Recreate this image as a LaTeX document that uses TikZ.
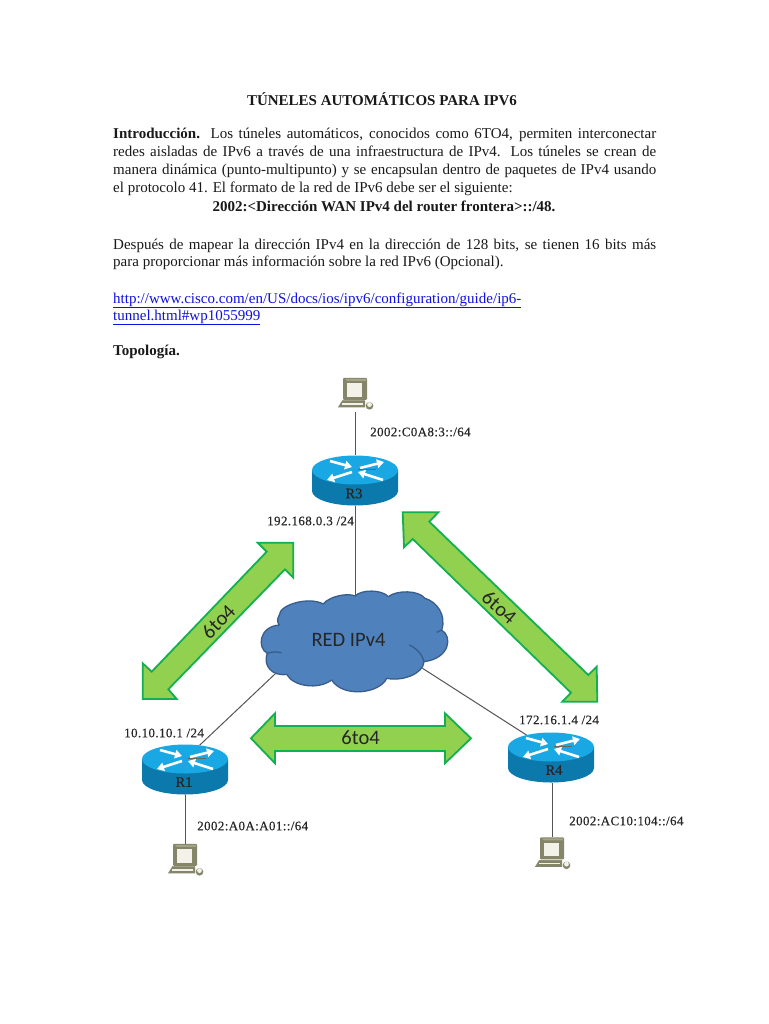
\documentclass[tikz,border=0pt]{standalone}
\usepackage{fontspec}
\usetikzlibrary{shapes.geometric,arrows.meta}
\setmainfont{Liberation Serif}
\newfontfamily\calfont{Carlito}
\newfontfamily\labfont[LetterSpace=3,FakeBold=0.25]{Liberation Serif}
\newfontfamily\rnfont[FakeBold=0.4]{Liberation Serif}
\definecolor{arrowfill}{HTML}{92D050}
\definecolor{arrowline}{HTML}{12B050}
\definecolor{cloudfill}{HTML}{4F81BD}
\definecolor{cloudline}{HTML}{385D8A}
\definecolor{rtop}{HTML}{19A8E4}
\definecolor{rside}{HTML}{0B79AC}
\definecolor{wire}{HTML}{555555}
\definecolor{pcdark}{HTML}{85856A}
\definecolor{pcmid}{HTML}{A3A388}
\definecolor{pclight}{HTML}{F2F2E8}
\definecolor{linkblue}{HTML}{1010E0}
\tikzset{
  bodyline/.style={anchor=base west,inner sep=0pt,font=\fontsize{15}{17.6}\selectfont,text=black!90},
  centerline/.style={anchor=base,inner sep=0pt,font=\fontsize{15}{17.6}\selectfont\bfseries,text=black!90},
  linkline/.style={bodyline,text=linkblue},
  bigarrow/.style={fill=arrowfill,draw=arrowline,line width=1.8pt,line join=miter},
  tunneltext/.style={inner sep=0pt,font=\calfont\fontsize{20.5}{22}\selectfont,text=black!85},
  ipaddr/.style={anchor=west,inner sep=0pt,font=\labfont\fontsize{13}{15}\selectfont,text=black!85},
  rname/.style={inner sep=0pt,font=\rnfont\fontsize{14.5}{16}\selectfont,text=black!85},
  rport/.style={ellipse,minimum width=86pt,minimum height=51pt,inner sep=0pt},
  pcport/.style={rectangle,minimum width=30pt,minimum height=32pt,inner sep=0pt},
  wireline/.style={draw=wire,line width=1pt},
  cloudedge/.style={draw=cloudline,line width=1.3pt,line join=round},
  rarrow/.style={white,line width=2.6pt,-{Triangle[length=7pt,width=8.5pt]}},
  pics/routericon/.style={code={
    \fill[rside] (-43,-10.5) -- (-43,10.5) arc[start angle=180,end angle=360,x radius=43,y radius=-14.5] -- (43,-10.5) -- cycle;
    \fill[rtop] (0,-10.5) ellipse[x radius=43,y radius=14.5];
    \draw[rarrow] (-25,-19.5) -- (-3,-13.5);
    \draw[rarrow] (5,-12.5) -- (29,-18.5);
    \draw[rarrow] (-3,-8.5) -- (-28,-0.5);
    \draw[rarrow] (28,-0.5) -- (3,-8.5);
    \draw[black!60,line width=.6pt] (3,-11) -- (21,-11);
  }},
  pics/pcicon/.style={code={
    \fill[pcdark,rounded corners=1pt] (-12,0) rectangle (12,22);
    \fill[pcmid] (-10,1) -- (11,1) -- (11,3) -- (-8,3) -- cycle;
    \fill[pclight] (-8,5.5) rectangle (7,19);
    \fill[pcmid] (-13,22.5) rectangle (10,26);
    \fill[pcdark] (-13,23) -- (-17,29.5) -- (10,29.5) -- (10,23) -- cycle;
    \fill[pclight] (-13,25.5) rectangle (8,27);
    \fill[pcdark] (14.5,28) circle[radius=3.8];
    \fill[pclight] (14.5,26.8) circle[radius=2.4];
  }}
}
\begin{document}
\begin{tikzpicture}[x=1pt,y=-1pt]
\useasboundingbox[fill=white] (0,0) rectangle (768,1024);
% text
\node[centerline] (title) at (382,106) {TÚNELES AUTOMÁTICOS PARA IPV6};
\node[bodyline] (l1) at (113,139) {\makebox[543pt][s]{\textbf{Introducción.} Los túneles automáticos, conocidos como 6TO4, permiten interconectar}};
\node[bodyline] (l2) at (113,157) {\makebox[543pt][s]{redes aisladas de IPv6 a través de una infraestructura de IPv4. Los túneles se crean de}};
\node[bodyline] (l3) at (113,175) {\makebox[543pt][s]{manera dinámica (punto-multipunto) y se encapsulan dentro de paquetes de IPv4 usando}};
\node[bodyline] (l4) at (113,193) {el protocolo 41. El formato de la red de IPv6 debe ser el siguiente:};
\node[centerline] (l5) at (384,211.5) {2002:<Dirección WAN IPv4 del router frontera>::/48.};
\node[bodyline] (l6) at (113,249) {\makebox[543pt][s]{Después de mapear la dirección IPv4 en la dirección de 128 bits, se tienen 16 bits más}};
\node[bodyline] (l7) at (113,266) {para proporcionar más información sobre la red IPv6 (Opcional).};
\node[linkline] (l8) at (113,303) {\underline{http://www.cisco.com/en/US/docs/ios/ipv6/configuration/guide/ip6-}};
\node[linkline] (l9) at (113,320) {\underline{tunnel.html\#wp1055999}};
\node[bodyline] (l10) at (113,355) {\textbf{Topología.}};
% invisible ports
\node[rport] (r3) at (355,480.5) {};
\node[rport] (r1) at (185,769.5) {};
\node[rport] (r4) at (551,757.5) {};
\node[pcport] (pc3) at (355,394) {};
\node[pcport] (pc1) at (185,860) {};
\node[pcport] (pc4) at (552,853.5) {};
\node[ellipse,minimum width=150pt,minimum height=84pt,inner sep=0pt] (cloud) at (355,642.5) {};
% connectors
\draw[wireline] ([yshift=-2pt]pc3.south) -- (r3.north);
\draw[wireline] (r3.south) -- (cloud.north);
\draw[wireline] (r1.59.5) -- (cloud.196.7);
\draw[wireline] (r4.137) -- (cloud.-20.3);
\draw[wireline] (r1.south) -- (pc1.north);
\draw[wireline] (r4.south -| pc4.north) -- (pc4.north);
% tunnels
\draw[bigarrow] (293.3,542.7) -- (257.7,542.7) -- (266.7,551.7) -- (151.7,671.7) -- (142.7,663.3) -- (142.7,699) -- (176.7,699) -- (168.3,689.3) -- (285,569.3) -- (293.3,577.7) -- cycle;
\draw[bigarrow] (402.7,512.3) -- (438.3,512.3) -- (429.3,521.7) -- (588.3,675) -- (596.7,666.7) -- (597.3,701.7) -- (562.3,701.7) -- (571,692.7) -- (412.7,539) -- (404,547.3) -- cycle;
\draw[bigarrow] (251,738.3) -- (275,713.3) -- (275,726) -- (445,726) -- (445,713.3) -- (471,738.3) -- (445,763.3) -- (445,751) -- (275,751) -- (275,763.3) -- cycle;
\node[tunneltext,rotate=46] (t1) at (218.3,621.7) {6to4};
\node[tunneltext,rotate=-41] (t2) at (499.3,607.3) {6to4};
\node[tunneltext] (t3) at (360.6,738) {6to4};
% cloud
\begin{scope}[shift={(240,580)},x=0.33333pt,y=-0.33333pt]
\draw[fill=cloudfill,cloudedge]
  (118,105) .. controls (118,75) and (205,48) .. (250,72)
  .. controls (268,48) and (325,38) .. (345,48)
  .. controls (365,28) and (425,28) .. (445,50)
  .. controls (470,30) and (535,30) .. (555,55)
  .. controls (590,65) and (620,105) .. (605,150)
  .. controls (638,170) and (630,235) .. (552,245)
  .. controls (550,280) and (490,305) .. (440,295)
  .. controls (420,340) and (310,355) .. (275,300)
  .. controls (235,330) and (160,320) .. (140,283)
  .. controls (95,290) and (68,255) .. (82,220)
  .. controls (52,205) and (55,140) .. (118,135)
  .. controls (110,125) and (112,115) .. (118,105) -- cycle;
\draw[cloudedge] (508,195) .. controls (530,205) and (548,225) .. (552,245);
\draw[cloudedge] (82,220) .. controls (95,215) and (110,215) .. (125,218);
\draw[cloudedge] (605,150) -- (590,157);
\end{scope}
\node[inner sep=0pt,font=\calfont\fontsize{20.5}{23}\selectfont,text=black!85] (cloudtext) at (348.5,640) {RED IPv4};
% routers and hosts
\pic at (r3.center) {routericon};
\pic at (r1.center) {routericon};
\pic at (r4.center) {routericon};
\pic at (pc3.north) {pcicon};
\pic at (pc1.north) {pcicon};
\pic at (pc4.north) {pcicon};
\node[rname] (r3t) at (354,493.5) {R3};
\node[rname] (r1t) at (184,782) {R1};
\node[rname] (r4t) at (554,770) {R4};
% addresses
\node[ipaddr] (a3) at (370,432) {2002:C0A8:3::/64};
\node[ipaddr] (b3) at (267,521) {192.168.0.3 /24};
\node[ipaddr] (b1) at (124,733) {10.10.10.1 /24};
\node[ipaddr] (a1) at (197,826) {2002:A0A:A01::/64};
\node[ipaddr] (b4) at (519,720) {172.16.1.4 /24};
\node[ipaddr] (a4) at (569,821) {2002:AC10:104::/64};
\end{tikzpicture}
\end{document}
